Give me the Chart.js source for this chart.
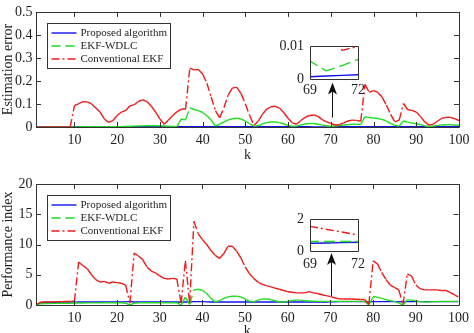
<!DOCTYPE html>
<html>
<head>
<meta charset="utf-8">
<script src="https://cdn.jsdelivr.net/npm/chart.js@4.4.1/dist/chart.umd.min.js"></script>
<style>
  html, body { margin: 0; padding: 0; background: #fff; }
  #wrap { position: relative; width: 474px; height: 333px; overflow: hidden; }
  .pane { position: absolute; }
</style>
</head>
<body>
<div id="wrap">
  <div class="pane" style="left:0;top:0;width:474px;height:165px"><canvas id="errChart"></canvas></div>
  <div class="pane" style="left:0;top:165px;width:474px;height:180px"><canvas id="perfChart"></canvas></div>
  <div class="pane" style="left:270px;top:32px;width:100px;height:66px"><canvas id="errZoom"></canvas></div>
  <div class="pane" style="left:270px;top:205px;width:100px;height:70px"><canvas id="perfZoom"></canvas></div>
</div>
<script>
// time steps k = 1..100
const steps = Array.from({ length: 100 }, (_, i) => i + 1);

const seriesNames = ['Proposed algorithm', 'EKF-WDLC', 'Conventional EKF'];

// estimation error per step
const errProposed = [
  0.0004,0.0005,0.0005,0.0006,0.0006,0.0006,0.0007,0.0007,0.0007,0.0008,
  0.0008,0.0008,0.0008,0.0009,0.0009,0.0009,0.0009,0.0009,0.0010,0.0010,
  0.0010,0.0010,0.0010,0.0010,0.0010,0.0011,0.0011,0.0011,0.0011,0.0011,
  0.0011,0.0011,0.0011,0.0011,0.0012,0.0012,0.0014,0.0013,0.0013,0.0012,
  0.0012,0.0011,0.0011,0.0011,0.0010,0.0010,0.0010,0.0010,0.0010,0.0010,
  0.0009,0.0009,0.0009,0.0009,0.0009,0.0009,0.0009,0.0009,0.0008,0.0008,
  0.0008,0.0008,0.0008,0.0008,0.0008,0.0007,0.0007,0.0007,0.0007,0.0009,
  0.0011,0.0013,0.0013,0.0013,0.0012,0.0012,0.0012,0.0015,0.0014,0.0014,
  0.0013,0.0013,0.0012,0.0012,0.0012,0.0012,0.0013,0.0013,0.0012,0.0012,
  0.0012,0.0011,0.0011,0.0011,0.0011,0.0011,0.0011,0.0011,0.0011,0.0011
];
const errWdlc = [
  0,0,0,0,0,0,0,0,0,0.0006,
  0.0007,0.0008,0.0008,0.0009,0.0009,0.0010,0.0010,0.0011,0.0012,0.0014,
  0.0018,0.0024,0.0032,0.0040,0.0046,0.0050,0.0052,0.0053,0.0052,0.0048,
  0.0042,0.0034,0.0024,0.0020,0.035,0.031,0.083,0.076,0.071,0.063,
  0.049,0.030,0.004,0.012,0.022,0.031,0.036,0.038,0.035,0.026,
  0.014,0.004,0.006,0.014,0.019,0.022,0.022,0.019,0.013,0.007,
  0.003,0.004,0.009,0.013,0.015,0.015,0.012,0.008,0.0055,0.0025,
  0.0041,0.006,0.0085,0.0105,0.012,0.012,0.011,0.045,0.041,0.039,
  0.037,0.033,0.026,0.016,0.007,0.004,0.026,0.021,0.017,0.014,
  0.010,0.005,0.002,0.004,0.007,0.009,0.010,0.010,0.009,0.008
];
const errConventional = [
  0,0,0,0,0,0,0,0,0,0.093,
  0.102,0.110,0.109,0.100,0.083,0.065,0.035,0.020,0.028,0.050,
  0.065,0.072,0.092,0.097,0.112,0.118,0.110,0.090,0.065,0.035,
  0.012,0.030,0.050,0.066,0.078,0.077,0.256,0.248,0.250,0.230,
  0.190,0.130,0.070,0.040,0.085,0.140,0.170,0.172,0.145,0.100,
  0.050,0.008,0.025,0.055,0.078,0.088,0.090,0.082,0.062,0.038,
  0.018,0.012,0.028,0.042,0.050,0.052,0.046,0.032,0.022,0.016,
  0.0088,0.010,0.018,0.026,0.030,0.029,0.025,0.185,0.150,0.158,
  0.150,0.130,0.095,0.055,0.022,0.030,0.102,0.075,0.072,0.065,
  0.045,0.022,0.008,0.012,0.026,0.038,0.042,0.042,0.036,0.028
];

// performance index per step
const perfProposed = [
  0.05,0.35,0.45,0.45,0.46,0.46,0.47,0.47,0.48,0.48,
  0.50,0.50,0.50,0.50,0.50,0.50,0.50,0.50,0.50,0.50,
  0.50,0.52,0.60,0.50,0.50,0.50,0.50,0.50,0.50,0.50,
  0.50,0.50,0.50,0.50,0.45,0.50,0.50,0.55,0.55,0.55,
  0.52,0.50,0.50,0.50,0.50,0.50,0.50,0.50,0.50,0.50,
  0.50,0.50,0.50,0.50,0.50,0.50,0.50,0.50,0.50,0.50,
  0.50,0.50,0.50,0.50,0.50,0.50,0.50,0.49,0.49,0.51,
  0.53,0.55,0.55,0.55,0.55,0.55,0.55,0.55,0.50,0.55,
  0.55,0.55,0.55,0.55,0.55,0.55,0.50,0.55,0.55,0.55,
  0.55,0.55,0.55,0.55,0.55,0.55,0.55,0.55,0.55,0.55
];
const perfWdlc = [
  0.05,0.20,0.25,0.25,0.27,0.28,0.30,0.30,0.30,0.32,
  0.33,0.34,0.35,0.35,0.35,0.35,0.36,0.36,0.36,0.36,
  0.36,0.30,0.00,0.30,0.36,0.37,0.37,0.38,0.38,0.38,
  0.38,0.38,0.38,0.38,0.00,1.30,0.10,2.50,2.60,2.40,
  1.90,1.10,0.50,0.70,1.10,1.35,1.45,1.45,1.35,1.00,
  0.60,0.50,0.80,1.00,1.00,0.90,0.70,0.50,0.50,0.60,
  0.75,0.80,0.80,0.70,0.65,0.62,0.60,0.60,0.60,0.60,
  0.60,0.60,0.60,0.60,0.60,0.60,0.60,0.60,0.00,1.40,
  1.30,1.10,0.90,0.70,0.60,0.30,0.00,0.85,0.80,0.70,
  0.55,0.50,0.50,0.55,0.55,0.60,0.60,0.60,0.60,0.60
];
const perfConventional = [
  0.05,0.45,0.50,0.50,0.52,0.55,0.55,0.58,0.60,0.62,
  7.1,6.5,6.0,5.0,4.2,3.8,3.9,3.6,3.8,3.7,
  3.6,3.3,0.3,8.6,8.1,7.5,6.3,5.6,5.3,4.8,
  4.4,4.3,4.4,4.3,0.3,7.3,0.3,13.8,11.8,10.8,
  10.0,9.0,8.2,7.7,8.5,9.7,9.7,8.9,7.8,6.3,
  5.2,4.4,3.8,3.4,3.2,3.0,2.8,2.6,2.4,2.2,
  2.1,2.0,2.0,2.0,2.2,2.0,1.9,1.7,1.56,1.38,
  1.2,1.02,1.0,1.0,1.0,0.95,0.92,0.9,0.15,7.3,
  6.8,5.4,4.2,3.3,2.9,2.5,0.1,5.1,4.8,3.3,
  2.7,2.5,2.5,2.5,2.5,2.4,2.4,2.1,1.7,1.3
];

const kTicks = [10, 20, 30, 40, 50, 60, 70, 80, 90, 100];
const errTicks = [0, 0.1, 0.2, 0.3, 0.4, 0.5];
const perfTicks = [0, 5, 10, 15, 20];
const zoomKTicks = [69, 72];
const errZoomTicks = [0, 0.01];
const perfZoomTicks = [0, 2];

const lineColors = ['#1212ee', '#1fdc1f', '#ee1a1a'];
const lineDashes = [[], [9, 5], [8, 3, 2, 3]];
const ink = '#1e1e1e';

Chart.defaults.font.family = '"Liberation Serif", "Times New Roman", serif';
Chart.defaults.color = ink;

// box round the plot area with short ticks pointing inwards
const frame = {
  id: 'frame',
  beforeDatasetsDraw(chart, args, opts) {
    if (!opts.fill) return;
    const a = chart.chartArea;
    chart.ctx.save();
    chart.ctx.fillStyle = '#fff';
    chart.ctx.fillRect(a.left, a.top, a.right - a.left, a.bottom - a.top);
    chart.ctx.restore();
  },
  afterDatasetsDraw(chart, args, opts) {
    const { ctx, chartArea: a, scales: { x, y } } = chart;
    const t = opts.tick || 0;
    ctx.save();
    ctx.strokeStyle = '#333';
    ctx.lineWidth = 1;
    ctx.beginPath();
    if (t) {
      x.ticks.forEach(tk => {
        const px = Math.round(x.getPixelForValue(tk.value)) + 0.5;
        ctx.moveTo(px, a.bottom); ctx.lineTo(px, a.bottom - t);
        ctx.moveTo(px, a.top); ctx.lineTo(px, a.top + t);
      });
      y.ticks.forEach(tk => {
        const py = Math.round(y.getPixelForValue(tk.value)) + 0.5;
        ctx.moveTo(a.left, py); ctx.lineTo(a.left + t, py);
        ctx.moveTo(a.right, py); ctx.lineTo(a.right - t, py);
      });
    }
    ctx.rect(Math.round(a.left) + 0.5, Math.round(a.top) + 0.5,
             Math.round(a.right - a.left), Math.round(a.bottom - a.top));
    ctx.stroke();
    ctx.restore();
  }
};

// legend box drawn inside the plot area
const boxLegend = {
  id: 'boxLegend',
  afterDatasetsDraw(chart, args, opts) {
    if (!opts.width) return;
    const { ctx, chartArea: a } = chart;
    const bx = Math.round(a.left + opts.dx) + 0.5, by = Math.round(a.top + opts.dy) + 0.5;
    ctx.save();
    ctx.fillStyle = '#fff';
    ctx.fillRect(bx, by, opts.width, opts.height);
    ctx.strokeStyle = '#333';
    ctx.lineWidth = 1;
    ctx.strokeRect(bx, by, opts.width, opts.height);
    ctx.font = '11px "Liberation Serif", serif';
    ctx.textBaseline = 'middle';
    chart.data.datasets.forEach((ds, i) => {
      const ry = by + opts.first + i * opts.gap;
      ctx.strokeStyle = ds.borderColor;
      ctx.lineWidth = ds.borderWidth;
      ctx.setLineDash(ds.borderDash);
      ctx.beginPath();
      ctx.moveTo(bx + 4, ry);
      ctx.lineTo(bx + 29, ry);
      ctx.stroke();
      ctx.setLineDash([]);
      ctx.fillStyle = ink;
      ctx.fillText(ds.label, bx + 33, ry + 0.5);
    });
    ctx.restore();
  }
};

// arrow pointing up at the zoomed window
const pointer = {
  id: 'pointer',
  afterDraw(chart, args, opts) {
    if (opts.at === undefined) return;
    const { ctx, scales: { x, y } } = chart;
    const px = Math.round(x.getPixelForValue(opts.at)) + 0.5;
    const y0 = y.getPixelForValue(opts.from), y1 = y.getPixelForValue(opts.to);
    ctx.save();
    ctx.strokeStyle = '#111';
    ctx.fillStyle = '#111';
    ctx.lineWidth = 1;
    ctx.beginPath();
    ctx.moveTo(px, y0);
    ctx.lineTo(px, y1 + 8);
    ctx.stroke();
    ctx.beginPath();
    ctx.moveTo(px, y1);
    ctx.lineTo(px - 4.5, y1 + 12);
    ctx.lineTo(px, y1 + 9);
    ctx.lineTo(px + 4.5, y1 + 12);
    ctx.closePath();
    ctx.fill();
    ctx.restore();
  }
};

function makeDatasets(series) {
  return series.map((vals, i) => ({
    label: seriesNames[i],
    data: steps.map((k, j) => ({ x: k, y: vals[j] })),
    borderColor: lineColors[i],
    borderWidth: 1.4,
    borderDash: lineDashes[i],
    pointRadius: 0,
    tension: 0,
    order: 3 - i,
    // each segment is stroked on its own so the dash pattern restarts at every sample
    segment: lineDashes[i].length ? { borderDashOffset: c => (c.p0DataIndex % 2) * 0.001 } : undefined
  }));
}

function fixedTicks(list) {
  return s => { s.ticks = list.map(v => ({ value: v })); };
}

function mainChart(id, series, yTicks, yMax, yTitle, pad, xHeight, xTickPad, xTitlePad, arrow) {
  return new Chart(document.getElementById(id), {
    type: 'line',
    data: { datasets: makeDatasets(series) },
    plugins: [frame, boxLegend, pointer],
    options: {
      responsive: true, maintainAspectRatio: false, animation: false,
      layout: { padding: pad },
      plugins: {
        legend: { display: false }, tooltip: { enabled: false },
        frame: { tick: 5 },
        boxLegend: { dx: 11, dy: 11, width: 123, height: 45, first: 9.5, gap: 13 },
        pointer: arrow
      },
      scales: {
        x: {
          type: 'linear', min: 1, max: 100,
          afterBuildTicks: fixedTicks(kTicks),
          afterFit: s => { s.height = xHeight; },
          grid: { display: false, drawTicks: false }, border: { display: false },
          ticks: { padding: xTickPad, font: { size: 14 }, maxRotation: 0, autoSkip: false },
          title: { display: true, text: 'k', font: { size: 14, lineHeight: 1 }, padding: { top: 0, bottom: xTitlePad } }
        },
        y: {
          type: 'linear', min: 0, max: yMax,
          afterBuildTicks: fixedTicks(yTicks),
          afterFit: s => { s.width = 36; },
          grid: { display: false, drawTicks: false }, border: { display: false },
          ticks: { padding: 3.5, font: { size: 14 }, callback: v => String(v) },
          title: { display: true, text: yTitle, font: { size: 14, lineHeight: 1 }, padding: { top: 1, bottom: 0 } }
        }
      }
    }
  });
}

function zoomChart(id, series, yTicks, yMax, pad, xHeight, xTickPad) {
  return new Chart(document.getElementById(id), {
    type: 'line',
    data: { datasets: makeDatasets(series) },
    plugins: [frame],
    options: {
      responsive: true, maintainAspectRatio: false, animation: false,
      layout: { padding: pad },
      plugins: { legend: { display: false }, tooltip: { enabled: false }, frame: { fill: true } },
      scales: {
        x: {
          type: 'linear', min: 69, max: 72,
          afterBuildTicks: fixedTicks(zoomKTicks),
          afterFit: s => { s.height = xHeight; },
          grid: { display: false, drawTicks: false }, border: { display: false },
          ticks: { padding: xTickPad, font: { size: 14 }, maxRotation: 0, autoSkip: false }
        },
        y: {
          type: 'linear', min: 0, max: yMax,
          afterBuildTicks: fixedTicks(yTicks),
          afterFit: s => { s.width = 40; },
          grid: { display: false, drawTicks: false }, border: { display: false },
          ticks: { padding: 6, font: { size: 14 }, callback: v => String(v) }
        }
      }
    }
  });
}

mainChart('errChart', [errProposed, errWdlc, errConventional], errTicks, 0.5, 'Estimation error',
  { left: 0, right: 9, top: 5, bottom: 0 }, 38, 4.5, 3, { at: 70.2, from: 0.041, to: 0.193 });
mainChart('perfChart', [perfProposed, perfWdlc, perfConventional], perfTicks, 20, 'Performance index',
  { left: 0, right: 9, top: 19, bottom: 0 }, 40, 5, 7, { at: 70.2, from: 1.5, to: 8.6 });

zoomChart('errZoom', [errProposed, errWdlc, errConventional], errZoomTicks, 0.01,
  { left: 0, right: 12, top: 10, bottom: 0 }, 19, 3);
zoomChart('perfZoom', [perfProposed, perfWdlc, perfConventional], perfZoomTicks, 2,
  { left: 0, right: 10, top: 9, bottom: 0 }, 24, 5);
</script>
</body>
</html>
